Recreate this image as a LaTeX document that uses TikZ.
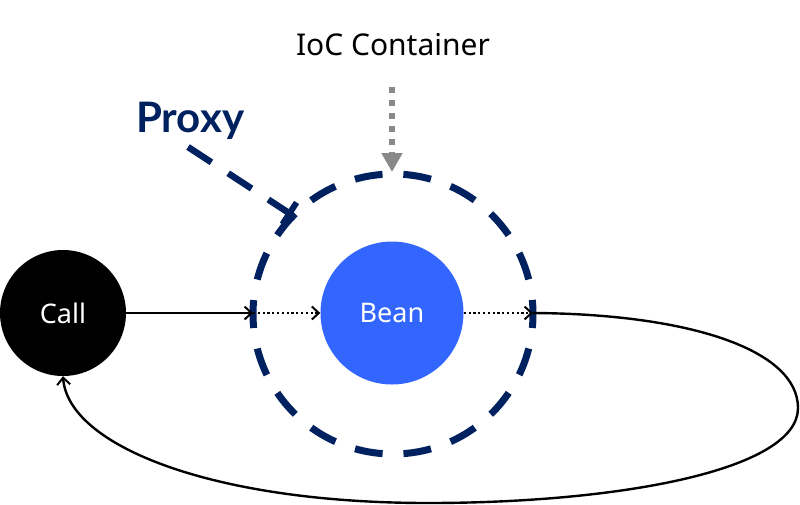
\documentclass[tikz,border=0pt]{standalone}
\usepackage{fontspec}
\setmainfont{Noto Sans}
\newfontfamily\proxyfont{Lato}
\usetikzlibrary{arrows.meta}
\definecolor{navy}{RGB}{0,33,96}
\definecolor{beanblue}{RGB}{51,102,255}
\definecolor{arrgray}{RGB}{137,137,137}
\tikzset{
  barb/.style={-{Straight Barb[length=7pt,width=13pt,line width=2pt]}},
  flow/.style={barb,line width=2pt,black},
  dotflow/.style={barb,line width=2.2pt,black,dash pattern=on 2.2pt off 2.6pt},
  ball/.style={circle,inner sep=0pt,font=\fontsize{27}{30}\selectfont,text=white},
}
\begin{document}
\begin{tikzpicture}[x=1pt,y=-1pt]
\useasboundingbox (0,0) rectangle (800,504);
\fill[white] (0,0) rectangle (800,504);
% proxy dashed circle
\coordinate (pc) at (393,314);
\draw[navy,line width=7pt,dash pattern=on 28pt off 20.87pt,dash phase=14pt] (pc) circle[radius=140];
\coordinate (pl) at (253,313);
\coordinate (pr) at (533,313);
\coordinate (pt) at (392,172);
% nodes
\node[ball,fill=black,minimum size=126pt] (call) at (63,313) {Call};
\node[ball,fill=beanblue,minimum size=143pt] (bean) at (392,313) {Bean};
\node[font=\fontsize{30}{34}\selectfont,anchor=base] (ioc) at (393,55) {IoC Container};
\node[font=\proxyfont\bfseries\fontsize{42}{46}\selectfont,text=navy,anchor=base west,inner sep=0pt] (proxy) at (136,132) {Proxy};
% proxy pointer
\coordinate (ps) at (188,147);
\coordinate (pe) at (292,215);
\draw[navy,line width=6.5pt,dash pattern=on 28pt off 20pt,-{Bar[width=26pt,line width=6pt]}] (ps) -- (pe);
% IoC arrow
\coordinate (is) at (392,87);
\draw[arrgray,line width=6pt,dash pattern=on 6pt off 7pt,-{Triangle[width=20pt,length=19pt]}] (is) -- (pt);
% flows
\draw[flow] (call.east) -- (pl);
\draw[dotflow] (pl) -- (bean.west);
\draw[dotflow] (bean.east) -- (pr);
\draw[barb,line width=2.4pt] (pr) .. controls (690,314) and (798,350) .. (798,408)
   .. controls (798,470) and (620,503) .. (428,503)
   .. controls (210,503) and (68,445) .. (call.south);
\end{tikzpicture}
\end{document}
